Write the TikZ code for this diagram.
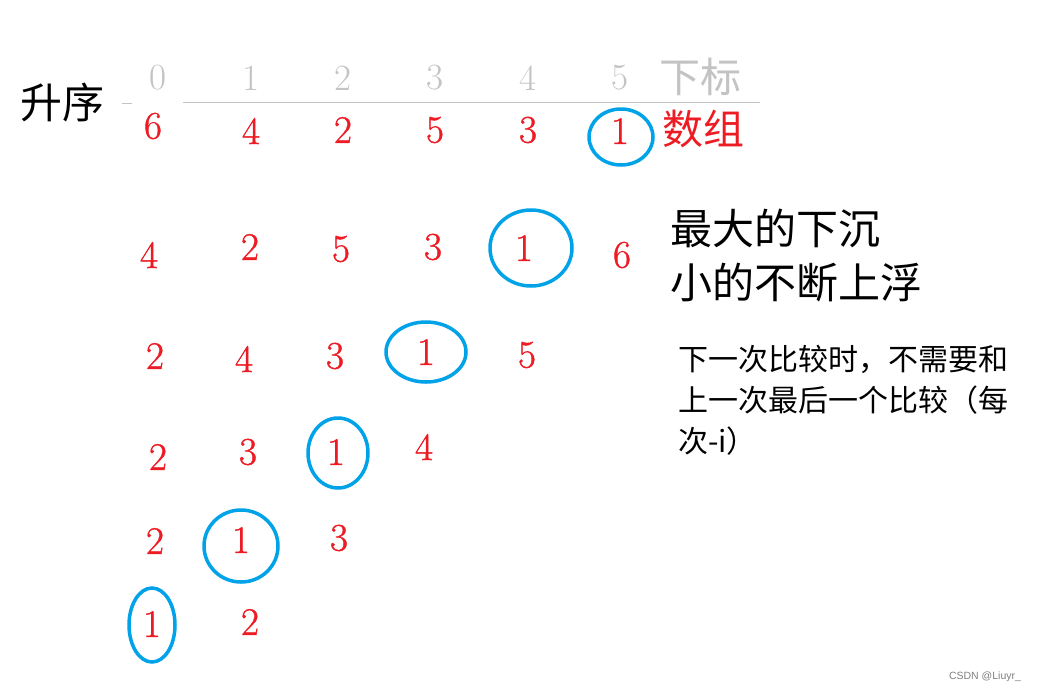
\documentclass[tikz,border=0pt]{standalone}
\usepackage{fontspec}
\newfontfamily\cjk{Noto Sans CJK SC}
\newfontfamily\numfont[FakeBold=1]{Latin Modern Roman}
\newfontfamily\wmfont{Liberation Sans}
\usetikzlibrary{shapes.geometric}
\definecolor{numred}{HTML}{ED1C24}
\definecolor{idxgray}{HTML}{C3C3C3}
\definecolor{ringblue}{HTML}{00A2E8}
\tikzset{
  num/.style={text=numred, font=\numfont\fontsize{39}{44}\selectfont, inner sep=0pt},
  idx/.style={text=idxgray, font=\fontsize{37}{40}\selectfont, inner sep=0pt},
  ring/.style={draw=ringblue, line width=3.5pt, ellipse, inner sep=0pt},
  big/.style={font=\cjk\fontsize{42}{50}\selectfont, inner sep=0pt, anchor=west, align=left},
  note/.style={font=\cjk\fontsize{30}{41}\selectfont, inner sep=0pt, anchor=north west, align=left},
}
\begin{document}
\begin{tikzpicture}[x=1pt,y=-1pt]
\useasboundingbox[fill=white] (0,0) rectangle (1038,694);
% header
\node[font=\cjk\fontsize{42}{48}\selectfont, inner sep=0pt] (asc) at (62,102) {升序};
\node[idx] (i0) at (158,78) {0};
\node[idx] (i1) at (251,78) {1};
\node[idx] (i2) at (343,78) {2};
\node[idx] (i3) at (435,78) {3};
\node[idx] (i4) at (528,78) {4};
\node[idx] (i5) at (620,78) {5};
\node[idx, font=\cjk\fontsize{41}{44}\selectfont] (xb) at (700,77) {下标};
\coordinate (t1) at (122,103);
\coordinate (t2) at (132,103);
\coordinate (l1) at (183,102);
\coordinate (l2) at (760,102);
\draw[idxgray, line width=1pt] (t1) -- (t2);
\draw[idxgray, line width=1pt] (l1) -- (l2);
% row 1
\node[num] (a1) at (153,126) {6};
\node[num] (a2) at (251,131) {4};
\node[num] (a3) at (343,130) {2};
\node[num] (a4) at (435,130) {5};
\node[num] (a5) at (528,130) {3};
\node[num] (a6) at (620,131) {1};
\node[num, font=\cjk\fontsize{41}{44}\selectfont] (arr) at (703,129) {数组};
\node[ring, minimum width=64pt, minimum height=56pt] (r1) at (621,137) {};
% row 2
\node[num] (b1) at (149,255) {4};
\node[num] (b2) at (250,247) {2};
\node[num] (b3) at (341,249) {5};
\node[num] (b4) at (433,247) {3};
\node[num] (b5) at (524,248) {1};
\node[num] (b6) at (622,255) {6};
\node[ring, minimum width=82pt, minimum height=76pt] (r2) at (531,248) {};
% row 3
\node[num] (c1) at (155,356) {2};
\node[num] (c2) at (244,359) {4};
\node[num] (c3) at (335,356) {3};
\node[num] (c4) at (426,352) {1};
\node[num] (c5) at (527,355) {5};
\node[ring, minimum width=80pt, minimum height=60pt] (r3) at (426,352) {};
% row 4
\node[num] (d1) at (158,457) {2};
\node[num] (d2) at (248,452) {3};
\node[num] (d3) at (336,452) {1};
\node[num] (d4) at (424,447) {4};
\node[ring, minimum width=60pt, minimum height=70pt] (r4) at (338,453) {};
% row 5
\node[num] (e1) at (155,541) {2};
\node[num] (e2) at (241,540) {1};
\node[num] (e3) at (339,538) {3};
\node[ring, minimum width=74pt, minimum height=72pt] (r5) at (241,546) {};
% row 6
\node[num] (f1) at (152,624) {1};
\node[num] (f2) at (250,622) {2};
\node[ring, minimum width=46pt, minimum height=74pt] (r6) at (152,625) {};
% notes
\node[big] (n1) at (670,228) {最大的下沉};
\node[big] (n2) at (670,283) {小的不断上浮};
\node[note] (n3) at (678,345) {下一次比较时，不需要和\\上一次最后一个比较（每\\次-i）};
\node[font=\wmfont\fontsize{10.5}{12}\selectfont, text=gray, inner sep=0pt] (wm) at (985,677) {CSDN @Liuyr\_};
\end{tikzpicture}
\end{document}
